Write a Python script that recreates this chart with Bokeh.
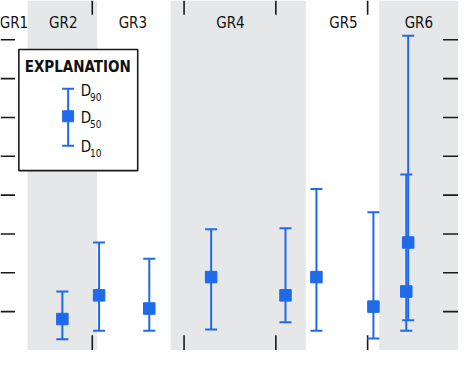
from bokeh.plotting import figure
from bokeh.models import ColumnDataSource, Whisker, TeeHead, Range1d
from bokeh.embed import file_html
from bokeh.resources import INLINE
from bokeh.core.properties import value

# ---- data (x in group-position units, y in size units) ----
groups = ["GR1", "GR2", "GR3", "GR4", "GR5", "GR6"]
group_label_x = [0.147, 0.684, 1.442, 2.505, 3.737, 4.558]
band_left = [0.295, 1.853, 4.126]
band_right = [1.053, 3.326, 5.0]
divider_x = [1.0, 2.0, 3.0, 4.0]
y_ticks = [1, 2, 3, 4, 5, 6, 7, 8]

pos_x = [0.674, 1.074, 1.621, 2.295, 3.105, 3.442, 4.063, 4.442, 4.421]
d10 = [0.29, 0.51, 0.51, 0.54, 0.73, 0.51, 0.31, 0.78, 0.51]
d50 = [0.81, 1.42, 1.08, 1.89, 1.42, 1.89, 1.13, 2.78, 1.52]
d90 = [1.52, 2.78, 2.36, 3.12, 3.15, 4.16, 3.56, 8.10, 4.53]

# legend sample
leg_x = [0.737]
leg_d10 = [5.27]
leg_d50 = [6.03]
leg_d90 = [6.74]

X0, X1 = 0.0, 4.99
Y0, Y1 = 0.0, 9.01

BLUE = "#1f6ae8"
GRAY = "#e5e7e9"
INK = "#1a1a1a"
FONT = "DejaVu Sans Condensed, Roboto, sans-serif"

p = figure(width=458, height=350, output_backend="svg", toolbar_location=None,
           x_range=Range1d(X0, X1), y_range=Range1d(Y0, Y1),
           x_axis_location=None, y_axis_location=None, min_border=0)
p.outline_line_color = None
p.grid.visible = False
p.background_fill_color = "white"

# shaded bands
p.quad(left=band_left, right=band_right, bottom=Y0, top=Y1,
       fill_color=GRAY, line_color=None)

# left/right tick marks
p.segment(x0=X0, x1=X0 + 0.158, y0=y_ticks, y1=y_ticks, line_color=INK, line_width=1.6)
p.segment(x0=X1 - 0.168, x1=X1, y0=y_ticks, y1=y_ticks, line_color=INK, line_width=1.6)

# group dividers at top and bottom
p.segment(x0=divider_x, x1=divider_x, y0=Y1, y1=Y1 - 0.37, line_color=INK, line_width=1.6)
p.segment(x0=divider_x, x1=divider_x, y0=Y0, y1=Y0 + 0.39, line_color=INK, line_width=1.6)

# group labels
p.text(x=group_label_x, y=[8.44] * len(groups), text=groups,
       text_font=value(FONT), text_font_size="15px", text_color="#111111",
       text_align="center", text_baseline="middle")

# data error bars
src = ColumnDataSource(dict(x=pos_x, lo=d10, mid=d50, hi=d90))
w = Whisker(source=src, base="x", lower="lo", upper="hi", dimension="height",
            line_color=BLUE, line_width=2, level="overlay",
            upper_head=TeeHead(size=12, line_color=BLUE, line_width=2),
            lower_head=TeeHead(size=12, line_color=BLUE, line_width=2))
p.add_layout(w)

# explanation box
p.quad(left=[0.20], right=[1.495], bottom=[4.63], top=[7.75],
       fill_color="white", line_color=INK, line_width=1.6)
p.text(x=[0.842], y=[7.31], text=["EXPLANATION"], text_font=value(FONT),
       text_font_style="bold", text_font_size="15px", text_color="#111111",
       text_align="center", text_baseline="middle")
lsrc = ColumnDataSource(dict(x=leg_x, lo=leg_d10, mid=leg_d50, hi=leg_d90))
lw = Whisker(source=lsrc, base="x", lower="lo", upper="hi", dimension="height",
             line_color=BLUE, line_width=2, level="overlay",
             upper_head=TeeHead(size=12, line_color=BLUE, line_width=2),
             lower_head=TeeHead(size=12, line_color=BLUE, line_width=2))
p.add_layout(lw)

leg_labels_y = [6.69, 5.99, 5.25]
leg_subs = ["90", "50", "10"]
p.text(x=[0.874] * 3, y=leg_labels_y, text=["D"] * 3, text_font=value(FONT),
       text_font_size="15px", text_color="#111111",
       text_align="left", text_baseline="middle")
p.text(x=[0.975] * 3, y=[v - 0.16 for v in leg_labels_y], text=leg_subs,
       text_font=value(FONT), text_font_size="10px", text_color="#111111",
       text_align="left", text_baseline="middle")

# squares on top
p.scatter(x="x", y="mid", source=src, marker="square", size=11.5,
          fill_color=BLUE, line_color=BLUE, level="overlay")
p.scatter(x="x", y="mid", source=lsrc, marker="square", size=11,
          fill_color=BLUE, line_color=BLUE, level="overlay")

open("out.html", "w").write(file_html(p, INLINE))
